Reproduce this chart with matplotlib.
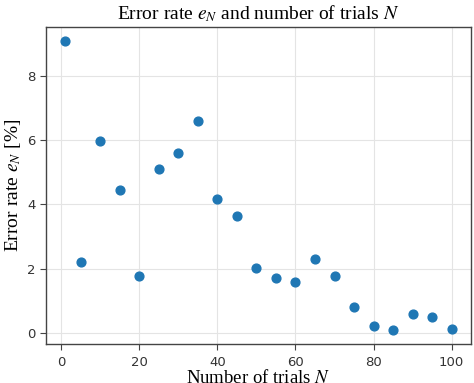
import matplotlib
matplotlib.use("Agg")
import matplotlib.pyplot as plt

trials = [1, 5, 10, 15, 20, 25, 30, 35, 40, 45, 50, 55, 60, 65, 70, 75, 80, 85, 90, 95, 100]
error_rate = [9.08, 2.2, 5.97, 4.46, 1.76, 5.1, 5.6, 6.6, 4.17, 3.63, 2.03, 1.7, 1.57, 2.3, 1.78,
              0.8, 0.2, 0.1, 0.58, 0.48, 0.13]

plt.rcParams['mathtext.fontset'] = 'stix'
fig = plt.figure(figsize=(4.74, 3.83), dpi=100)
ax = fig.add_axes([0.0964, 0.1018, 0.8973, 0.8284])
ax.scatter(trials, error_rate, s=40, color='#1f77b4', zorder=3)
ax.grid(True, color='#e4e4e4', linewidth=0.8)
ax.set_axisbelow(True)
for sp in ax.spines.values():
    sp.set_color('#444444')
    sp.set_linewidth(1.0)
ax.tick_params(colors='#444444', labelcolor='#333333', labelsize=9.5, length=4)
ax.tick_params(axis='x', pad=4.5)
ax.set_xticks([0, 20, 40, 60, 80, 100])
ax.set_yticks([0, 2, 4, 6, 8])
serif = ['Liberation Serif', 'DejaVu Serif']
ax.set_title(r'Error rate $e_N$ and number of trials $N$', family=serif, fontsize=14, pad=5)
ax.set_xlabel(r'Number of trials $N$', family=serif, fontsize=13.5, labelpad=0)
ax.set_ylabel(r'Error rate $e_N$ [%]', family=serif, fontsize=14, labelpad=3)
fig.savefig('out.png', dpi=100)
